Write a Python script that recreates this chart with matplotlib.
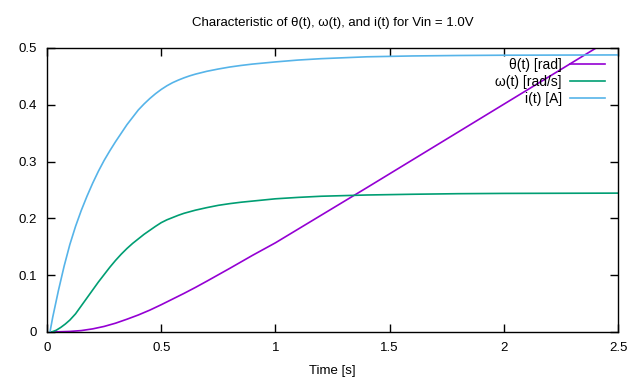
import matplotlib
matplotlib.use("Agg")
import matplotlib.pyplot as plt

# Data
t_i = [0.013, 0.025, 0.05, 0.075, 0.10, 0.125, 0.15, 0.175, 0.20, 0.225, 0.25, 0.275,
       0.30, 0.325, 0.35, 0.375, 0.40, 0.425, 0.45, 0.475, 0.50, 0.525, 0.55, 0.575,
       0.60, 0.625, 0.65, 0.675, 0.70, 0.75, 0.80, 0.85, 0.90, 1.0, 1.1, 1.2, 1.4,
       1.6, 1.8, 2.0, 2.5]
i_vals = [0.0, 0.026, 0.073, 0.116, 0.154, 0.186, 0.214, 0.239, 0.262, 0.283, 0.302,
          0.319, 0.335, 0.350, 0.365, 0.378, 0.391, 0.4015, 0.411, 0.4195, 0.427,
          0.4335, 0.439, 0.4435, 0.4475, 0.451, 0.454, 0.4565, 0.459, 0.463, 0.4665,
          0.4693, 0.4717, 0.4755, 0.4788, 0.4812, 0.4845, 0.486, 0.4868, 0.4873, 0.4878]

t_w = [0.02, 0.04, 0.06, 0.08, 0.10, 0.125, 0.15, 0.175, 0.20, 0.225, 0.25, 0.275,
       0.30, 0.325, 0.35, 0.375, 0.40, 0.425, 0.45, 0.475, 0.50, 0.525, 0.55, 0.575,
       0.60, 0.65, 0.70, 0.75, 0.80, 0.85, 0.90, 1.0, 1.1, 1.2, 1.4, 1.6, 1.8, 2.0, 2.5]
w_vals = [0.0, 0.003, 0.008, 0.014, 0.021, 0.032, 0.046, 0.060, 0.074, 0.088, 0.101,
          0.114, 0.126, 0.137, 0.147, 0.156, 0.164, 0.172, 0.179, 0.186, 0.1925, 0.1975,
          0.2015, 0.2055, 0.209, 0.2145, 0.219, 0.223, 0.226, 0.2285, 0.2305, 0.2345,
          0.237, 0.239, 0.2412, 0.2425, 0.2435, 0.244, 0.2445]

t_th = [0.02, 0.1, 0.15, 0.2, 0.25, 0.3, 0.35, 0.4, 0.45, 0.5, 0.55, 0.6, 0.65, 0.7,
        0.8, 0.9, 1.0, 1.2, 1.4, 1.6, 1.8, 2.0, 2.2, 2.4, 2.5]
th_vals = [0.0, 0.001, 0.0025, 0.0055, 0.0098, 0.0155, 0.0225, 0.030, 0.0385, 0.048,
           0.058, 0.068, 0.0785, 0.0895, 0.112, 0.135, 0.157, 0.2055, 0.254, 0.303,
           0.352, 0.401, 0.450, 0.499, 0.5235]

x_ticks = [0, 0.5, 1, 1.5, 2, 2.5]
x_tick_labels = ["0", "0.5", "1", "1.5", "2", "2.5"]
y_ticks = [0, 0.1, 0.2, 0.3, 0.4, 0.5]
y_tick_labels = ["0", "0.1", "0.2", "0.3", "0.4", "0.5"]

labels = ["θ(t) [rad]", "ω(t) [rad/s]", "i(t) [A]"]
colors = ["#9400D3", "#009E73", "#56B4E9"]

plt.rcParams['font.family'] = ['Liberation Sans', 'DejaVu Sans']
fig = plt.figure(figsize=(6.4, 3.84), dpi=100)
ax = fig.add_axes([47 / 640, 52 / 384, 571 / 640, 284 / 384])

ax.plot(t_th, th_vals, color=colors[0], lw=1.2, label=labels[0])
ax.plot(t_w, w_vals, color=colors[1], lw=1.2, label=labels[1])
ax.plot(t_i, i_vals, color=colors[2], lw=1.2, label=labels[2])

ax.set_xlim(0, 2.5)
ax.set_ylim(0, 0.5)
ax.set_xticks(x_ticks)
ax.set_xticklabels(x_tick_labels)
ax.set_yticks(y_ticks)
ax.set_yticklabels(y_tick_labels)
ax.tick_params(direction="in", length=6, width=1, top=True, right=True,
               labelsize=9.5, pad=7, colors="black")
for s in ax.spines.values():
    s.set_linewidth(1.0)

ax.set_title("Characteristic of θ(t), ω(t), and i(t) for Vin = 1.0V", fontsize=9.5, pad=16)
ax.set_xlabel("Time [s]", fontsize=9.5, labelpad=8)

leg = ax.legend(loc="upper right", frameon=False, markerfirst=False, fontsize=10,
                handlelength=2.5, handletextpad=0.6, labelspacing=0.22,
                borderaxespad=0.0, borderpad=0.0, bbox_to_anchor=(0.977, 0.966))

fig.savefig("out.png", dpi=100)
